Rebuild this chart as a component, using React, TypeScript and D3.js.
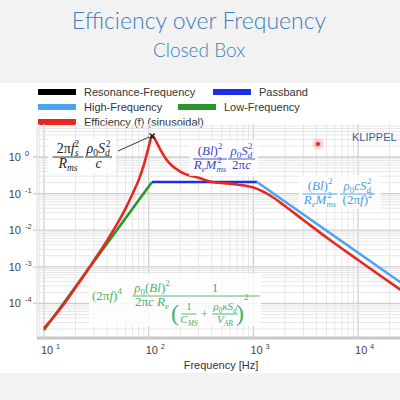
import React from "react";
import * as d3 from "d3";

const title = "Efficiency over Frequency";
const subtitle = "Closed Box";
const xLabel = "Frequency [Hz]";

// efficiency (sinusoidal), red curve
const effFreq = [10, 15, 20, 30, 40, 50, 60, 70, 80, 90, 100, 105, 108, 112, 120, 130, 150, 200, 300, 400, 500, 700, 1000, 1500, 2000, 3000, 5000, 10000, 20000, 30000];
const effValue = [2.1e-5, 8.5e-5, 2.72e-4, 1.49e-3, 5.2e-3, 0.0148, 0.039, 0.098, 0.23, 0.62, 1.9, 3.2, 3.75, 3.4, 2.4, 1.55, 0.8, 0.4, 0.27, 0.207, 0.195, 0.177, 0.147, 0.0834, 0.0457, 0.019, 0.0063, 0.00153, 3.8e-4, 1.69e-4];

// asymptotes
const lowFreq = [10, 107.5];
const lowValue = [1.87e-5, 0.2075];
const passFreq = [107.5, 1082];
const passValue = [0.2075, 0.2075];
const highFreq = [1082, 30000];
const highValue = [0.2075, 2.7e-4];

// resonance marker
const resFreq = [108];
const resValue = [3.75];

const xTicks = [10, 100, 1000, 10000];
const xTickExp = ["1", "2", "3", "4"];
const yTicks = [1, 0.1, 0.01, 0.001, 0.0001];
const yTickExp = ["0", "-1", "-2", "-3", "-4"];

const legendLabels = ["Resonance-Frequency", "Passband", "High-Frequency", "Low-Frequency", "Efficiency (f) (sinusoidal)"];

const C = {
  red: "#e8271f",
  blue: "#1c2fe6",
  light: "#4ca4ee",
  green: "#2a962a",
  black: "#000000",
};

const plot = { left: 37, right: 400, top: 124, bottom: 338 };

const x = d3.scaleLog().domain([10, 10000]).range([44, 358.1]);
const y = d3.scaleLog().domain([1e-4, 1]).range([303.4, 157]);

const zip = (a: number[], b: number[]) => a.map((d, i) => [d, b[i]] as [number, number]);

const straight = d3
  .line<[number, number]>()
  .x((d) => x(d[0]))
  .y((d) => y(d[1]));
const smooth = straight.curve(d3.curveMonotoneX);

const I = (t: string) => <tspan fontStyle="italic">{t}</tspan>;
const Sub = (t: string, italic = false) => (
  <tspan fontSize="0.68em" baselineShift="-3" fontStyle={italic ? "italic" : "normal"}>
    {t}
  </tspan>
);
const Sup = (t: string, dx = 0) => (
  <tspan fontSize="0.68em" baselineShift="6" dx={dx}>
    {t}
  </tspan>
);

const Frac = ({ cx, y: by, w, num, den, fs = 13 }: any) => (
  <g fontSize={fs}>
    <text x={cx} y={by - 4.5} textAnchor="middle">
      {num}
    </text>
    <line x1={cx - w / 2} x2={cx + w / 2} y1={by} y2={by} stroke="currentColor" strokeWidth={0.9} />
    <text x={cx} y={by + fs * 0.8} textAnchor="middle">
      {den}
    </text>
  </g>
);

const rho0 = (
  <>
    {I("ρ")}
    {Sub("0")}
  </>
);
const Sd2 = (
  <>
    {I("S")}
    {Sub("d", true)}
    {Sup("2", -4)}
  </>
);
const Bl2 = (
  <>
    ({I("Bl")}){Sup("2")}
  </>
);
const ReMms2 = (
  <>
    {I("R")}
    {Sub("e", true)}
    {I("M")}
    {Sub("ms", true)}
    {Sup("2", -9)}
  </>
);

const App = () => {
  const xs = [] as { f: number; major: boolean }[];
  for (let k = 0; k <= 4; k++)
    for (let m = 1; m <= 9; m++) {
      const f = m * 10 ** k;
      const px = x(f);
      if (px >= plot.left && px <= plot.right) xs.push({ f, major: m === 1 });
    }
  const ys = [] as { v: number; major: boolean }[];
  for (let k = -5; k <= 0; k++)
    for (let m = 1; m <= 9; m++) {
      const v = m * 10 ** k;
      const py = y(v);
      if (py >= plot.top && py <= plot.bottom) ys.push({ v, major: m === 1 });
    }

  const legend = [
    { label: legendLabels[0], color: C.black, sx: 38, row: 0 },
    { label: legendLabels[1], color: C.blue, sx: 213, row: 0 },
    { label: legendLabels[2], color: C.light, sx: 38, row: 1 },
    { label: legendLabels[3], color: C.green, sx: 178, row: 1 },
    { label: legendLabels[4], color: C.red, sx: 38, row: 2 },
  ];

  const px = x(resFreq[0]);
  const py = y(resValue[0]);

  return (
    <svg width={400} height={400} style={{ position: "absolute", left: 0, top: 0 }} fontFamily="'Liberation Sans', Arial, sans-serif">
      <defs>
        <clipPath id="plotclip">
          <rect x={plot.left} y={plot.top} width={plot.right - plot.left} height={plot.bottom - plot.top} />
        </clipPath>
        <filter id="glow">
          <feGaussianBlur stdDeviation="1.5" />
        </filter>
      </defs>
      <rect width={400} height={400} fill="#f2f2f2" />
      <rect x={0} y={83} width={400} height={290} fill="#ffffff" />

      <text x={199} y={29} textAnchor="middle" fontFamily="Lato, sans-serif" fontSize={23} fontWeight={300} fill="#3a80c0">
        {title}
      </text>
      <text x={199} y={57} textAnchor="middle" fontFamily="Lato, sans-serif" fontSize={19} fontWeight={300} fill="#3a80c0">
        {subtitle}
      </text>

      {legend.map((d, i) => (
        <g key={i} transform={`translate(0,${92 + d.row * 15})`}>
          <rect x={d.sx} y={-3} width={38} height={6} fill={d.color} />
          <text x={d.sx + 46} y={4} fontSize={11} fill="#333">
            {d.label}
          </text>
        </g>
      ))}

      {/* grid */}
      <g>
        {xs.map((d, i) => (
          <line key={"x" + i} x1={x(d.f)} x2={x(d.f)} y1={plot.top} y2={plot.bottom} stroke={d.major ? "#cfcfcf" : "#e6e6e6"} strokeWidth={d.major ? 1.3 : 1} />
        ))}
        {ys.map((d, i) => (
          <line key={"y" + i} x1={d.major ? 33 : plot.left} x2={plot.right} y1={y(d.v)} y2={y(d.v)} stroke={d.major ? "#cfcfcf" : "#e6e6e6"} strokeWidth={d.major ? 1.3 : 1} />
        ))}
        <line x1={plot.left} x2={plot.left} y1={plot.top} y2={plot.bottom} stroke="#dedede" />
        <line x1={plot.left} x2={plot.right} y1={plot.bottom} y2={plot.bottom} stroke="#c9c9c9" strokeWidth={3} />
      </g>

      {/* tick labels */}
      <g fontSize={11} fill="#444">
        {xTicks.map((t, i) => (
          <g key={i}>
            <text x={x(t) - 3} y={354}>
              10
            </text>
            <text x={x(t) + 12} y={349} fontSize={7.5}>
              {xTickExp[i]}
            </text>
          </g>
        ))}
        {yTicks.map((t, i) => (
          <g key={i}>
            <text x={21} y={y(t) + 4} textAnchor="end">
              10
            </text>
            <text x={25} y={y(t) - 1} fontSize={7.5}>
              {yTickExp[i]}
            </text>
          </g>
        ))}
        <text x={221} y={369} textAnchor="middle" fill="#333">
          {xLabel}
        </text>
      </g>

      {/* curves */}
      <g clipPath="url(#plotclip)" fill="none" strokeWidth={2.6} strokeLinejoin="round">
        <path d={straight(zip(lowFreq, lowValue)) as string} stroke={C.green} />
        <path d={straight(zip(passFreq, passValue)) as string} stroke={C.blue} />
        <path d={straight(zip(highFreq, highValue)) as string} stroke={C.light} />
        <path d={smooth(zip(effFreq, effValue)) as string} stroke={C.red} />
      </g>

      {/* resonance marker */}
      <line x1={118} y1={151} x2={px - 3} y2={py + 1} stroke="#222" strokeWidth={0.9} />
      <path d={`M${px - 2.5},${py - 2.5}L${px + 2.5},${py + 2.5}M${px - 2.5},${py + 2.5}L${px + 2.5},${py - 2.5}`} stroke="#111" strokeWidth={1.3} />

      {/* KLIPPEL + pointer dot */}
      <text x={352} y={141} fontSize={11} fill="#3f5f9a">
        KLIPPEL
      </text>
      <circle cx={318} cy={144} r={5} fill="#f07070" opacity={0.45} filter="url(#glow)" />
      <circle cx={318} cy={144} r={2} fill="#e02828" />

      {/* formulas */}
      <g fontFamily="'Liberation Serif', 'Times New Roman', serif">
        <g color="#222" fill="#222">
          <rect x={48} y={139} width={68} height={34} fill="#fff" opacity={0.85} />
          <Frac cx={68} y={157} w={31} fs={14} num={<>2π{I("f")}{Sub("s", true)}{Sup("2", -4)}</>} den={<>{I("R")}{Sub("ms", true)}</>} />
          <Frac cx={98.5} y={157} w={27} fs={14} num={<>{rho0}{Sd2}</>} den={I("c")} />
        </g>
        <g color="#3a46c8" fill="#3a46c8">
          <rect x={189} y={140} width={69} height={36} fill="#fff" opacity={0.75} />
          <Frac cx={210} y={159} w={34} fs={13} num={Bl2} den={ReMms2} />
          <Frac cx={241.5} y={159} w={27} fs={13} num={<>{rho0}{Sd2}</>} den={<>2π{I("c")}</>} />
        </g>
        <g color="#4aa0e2" fill="#4aa0e2">
          <rect x={299} y={175} width={82} height={34} fill="#fff" opacity={0.75} />
          <Frac cx={320} y={194} w={35} fs={13} num={Bl2} den={ReMms2} />
          <Frac cx={357.5} y={194} w={35} fs={13} num={<>{rho0}{I("c")}{Sd2}</>} den={<>(2π{I("f")}){Sup("2")}</>} />
        </g>
        <g color="#48b068" fill="#48b068">
          <rect x={89} y={274} width={172} height={52} fill="#fff" opacity={0.8} />
          <text x={92} y={300} fontSize={13}>
            (2π{I("f")}){Sup("4")}
          </text>
          <Frac cx={152} y={296} w={40} fs={13} num={<>{rho0}({I("Bl")}){Sup("2")}</>} den={<>2π{I("c")}{"  "}{I("R")}{Sub("e", true)}</>} />
          <line x1={172} x2={260} y1={296} y2={296} stroke="#48b068" strokeWidth={0.9} />
          <text x={215} y={291.5} fontSize={13} textAnchor="middle">
            1
          </text>
          <text x={171} y={321} fontSize={24} fontWeight={300}>
            (
          </text>
          <Frac cx={189} y={314} w={15} fs={11} num="1" den={<>{I("C")}{Sub("MS", true)}</>} />
          <text x={201} y={318} fontSize={12}>
            +
          </text>
          <Frac cx={225} y={314} w={26} fs={11} num={<>{rho0}{I("κS")}{Sub("d", true)}</>} den={<>{I("V")}{Sub("AB", true)}</>} />
          <text x={236} y={321} fontSize={24} fontWeight={300}>
            )
          </text>
          <text x={244} y={300} fontSize={9}>
            2
          </text>
        </g>
      </g>
    </svg>
  );
};

export default App;
